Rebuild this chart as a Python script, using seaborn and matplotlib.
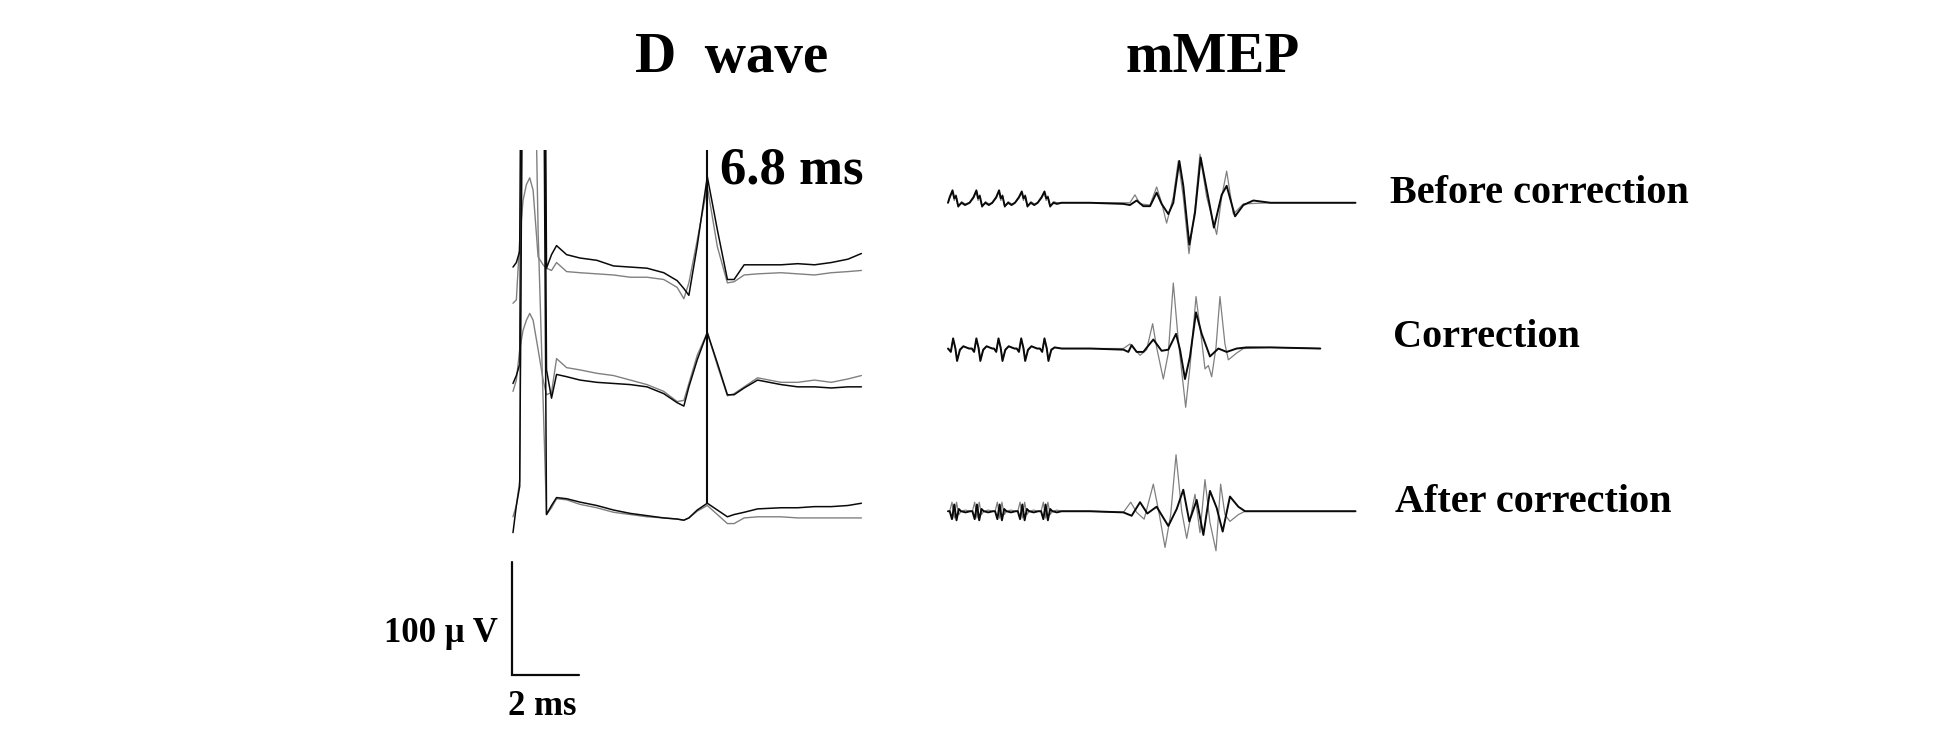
import numpy as np
import matplotlib
matplotlib.use("Agg")
import matplotlib.pyplot as plt
import seaborn as sns

# ---------------- D wave (time in ms, amplitude in uV) ----------------
dwave_t = [1.0, 1.1, 1.2, 1.3, 1.4, 1.5, 1.6, 1.75, 1.9,
           2.0, 2.15, 2.3, 2.6, 3.0, 3.5, 4.0, 4.5,
           5.0, 5.5, 5.9, 6.1, 6.25, 6.5, 6.8, 7.1,
           7.4, 7.6, 7.9, 8.3, 9.0, 9.5, 10.0, 10.5,
           11.0, 11.4]

# stimulus artifact runs off the top of the window (500 = off scale)
before_black = [1, 5, 15, 500, 500, 500, 500, 500, 500,
                0, 12, 20, 12, 9, 7, 2, 1,
                0, -4, -11, -18, -24, 20, 81, 34,
                -10, -10, 3, 3, 3, 4, 3, 5,
                8, 13]
before_gray = [-31, -28, 25, 60, 74, 80, 69, 10, 3,
               0, -2, 5, -3, -4, -5, -6, -8,
               -8, -10, -17, -27, -13, 25, 72, 19,
               -13, -12, -6, -5, -4, -5, -6, -4,
               -3, -2]
corr_black = [3, 10, 20, 500, 500, 500, 500, 500, 500,
              15, -10, 11, 9, 6, 4, 3, 2,
              0, -6, -14, -17, 0, 24, 48, 21,
              -7, -7, -1, 6, 2, 0, 0, -1,
              0, 0]
corr_gray = [-4, 6, 33, 50, 59, 65, 59, 33, 6,
             -7, -5, 25, 17, 15, 12, 10, 6,
             2, -4, -13, -12, 3, 28, 48, 19,
             -8, -6, 0, 8, 4, 4, 6, 4,
             7, 10]
after_black = [-16, 8, 25, 500, 500, 500, 500, 500, 500,
               0, 8, 15, 14, 11, 8, 4, 1,
               -1, -3, -4, -5, -3, 4, 10, 4,
               -2, 0, 2, 5, 6, 6, 7, 7,
               8, 10]
after_gray = [-2, 8, 30, 500, 500, 500, 500, 250, 100,
              0, 6, 14, 13, 9, 6, 2, 0,
              -2, -3, -4, -5, -3, 3, 8, 0,
              -8, -8, -3, -2, -2, -3, -3, -3,
              -3, -3]

LATENCY_MS = 6.8
SCALE_MS = 2
SCALE_UV = 100

# ---------------- mMEP (time in ms, amplitude in uV) ----------------
pre_black_t = [0.0, 0.15, 0.4, 0.55, 0.7, 0.9, 1.2, 1.5,
               1.9, 2.25, 2.5, 2.65, 2.8, 3.0, 3.3, 3.6,
               3.9, 4.25, 4.5, 4.65, 4.8, 5.0, 5.3, 5.6,
               5.9, 6.25, 6.5, 6.65, 6.8, 7.0, 7.3, 7.6,
               7.9, 8.25, 8.5, 8.65, 8.8, 9.0, 9.3, 9.6, 10.0,
               12.5, 15.45, 16.03, 16.62, 17.21, 17.8, 18.38, 18.82,
               19.41, 19.85, 20.38, 20.73, 21.26, 21.76, 22.26, 22.79,
               23.43, 24.11, 24.55, 25.29, 26.02, 26.9, 28.4, 35.9]
pre_black_v = [0, 5, 11, 4, 6, -3, 0, -2,
               0, 5, 11, 4, 6, -3, 0, -2,
               0, 5, 11, 4, 6, -3, 0, -2,
               0, 5, 10, 4, 6, -3, 0, -2,
               0, 5, 10, 4, 5, -3, 0, -1, 0,
               0, -1, -2, 2, -3, -3, 9, -1,
               -10, 0, 37, 15, -37, -9, 40, 12,
               -22, 7, 15, -12, -2, 2, 0, 0]
pre_gray_t = [0.0, 0.15, 0.4, 0.55, 0.7, 0.9, 1.2, 1.5,
              1.9, 2.25, 2.5, 2.65, 2.8, 3.0, 3.3, 3.6,
              3.9, 4.25, 4.5, 4.65, 4.8, 5.0, 5.3, 5.6,
              5.9, 6.25, 6.5, 6.65, 6.8, 7.0, 7.3, 7.6,
              7.9, 8.25, 8.5, 8.65, 8.8, 9.0, 9.3, 9.6, 10.0,
              12.5, 15.45, 16.03, 16.47, 16.92, 17.8, 18.38, 18.82,
              19.26, 19.85, 20.29, 20.73, 21.23, 21.76, 22.2, 22.79,
              23.67, 24.11, 24.55, 25.14, 26.02, 28.4, 35.9]
pre_gray_v = [0, 4, 10, 2, 7, -4, 1, -1,
              0, 4, 10, 2, 7, -4, 1, -1,
              0, 4, 10, 2, 7, -4, 1, -1,
              0, 4, 9, 2, 7, -4, 1, -1,
              0, 4, 9, 2, 6, -4, 1, 0, 0,
              0, 0, 0, 7, -1, -2, 14, 0,
              -18, 5, 37, 5, -45, -5, 43, 5,
              -28, 5, 28, -10, -1, 0, 0]

mid_t = [0.0, 0.25, 0.45, 0.65, 0.8, 1.05, 1.35, 1.85,
         2.1, 2.3, 2.5, 2.7, 2.85, 3.1, 3.4, 3.9,
         4.05, 4.25, 4.45, 4.65, 4.8, 5.05, 5.35, 5.85,
         6.05, 6.25, 6.45, 6.65, 6.8, 7.05, 7.35, 7.85,
         8.1, 8.3, 8.5, 8.7, 8.85, 9.1, 9.4, 10.0]
mid_black_pulses = [0, -3, 9, 0, -11, -1, 2, 0,
                    0, -3, 9, 0, -11, -1, 2, 0,
                    0, -3, 9, 0, -11, -1, 2, 0,
                    0, -3, 9, 0, -11, -1, 2, 0,
                    0, -3, 9, 0, -11, -1, 1, 0]
mid_gray_pulses = [0, -2, 8, 1, -10, -2, 2, 0,
                   0, -2, 8, 1, -10, -2, 2, 0,
                   0, -2, 8, 1, -10, -2, 2, 0,
                   0, -2, 8, 1, -10, -2, 2, 0,
                   0, -2, 8, 1, -10, -2, 1, 0]
mid_black_mep_t = [12.5, 15.45, 15.89, 16.18, 16.62, 17.21, 18.09, 18.82,
                   19.41, 20.09, 20.44, 20.88, 21.32, 21.85, 22.35, 23.08,
                   23.82, 24.55, 25.43, 26.31, 28.4, 32.8]
mid_black_mep_v = [0, -1, -3, 3, -3, -3, 8, -2,
                   -1, 13, -1, -27, -7, 32, 13, -7,
                   0, -3, 0, 1, 1, 0]
mid_gray_mep_t = [12.5, 15.45, 16.03, 16.92, 17.5, 18.03, 18.38, 18.97,
                  19.41, 19.85, 20.29, 20.94, 21.32, 21.85, 22.35, 22.64,
                  22.94, 23.23, 23.61, 23.96, 24.4, 24.7, 25.43, 26.02,
                  28.4, 32.8]
mid_gray_mep_v = [0, 0, 4, -6, -1, 22, 1, -27,
                  -4, 58, 7, -52, -16, 46, 7, -18,
                  -15, -25, 1, 46, 4, -10, -4, 0,
                  1, 0]

post_t = [0.0,
          0.15, 0.35, 0.55, 0.75, 0.95, 1.15, 1.55, 1.95,
          2.15, 2.35, 2.55, 2.75, 2.95, 3.15, 3.55, 3.95,
          4.15, 4.35, 4.55, 4.75, 4.95, 5.15, 5.55, 5.95,
          6.15, 6.35, 6.55, 6.75, 6.95, 7.15, 7.55, 7.95,
          8.2, 8.4, 8.6, 8.8, 9.0, 9.2, 9.6, 10.0]
post_gray_pulses = [0,
                    0, 8, -6, 8, -3, 0, 1, 0,
                    0, 8, -6, 8, -3, 0, 1, 0,
                    0, 8, -6, 8, -3, 0, 1, 0,
                    0, 8, -6, 8, -3, 0, 1, 0,
                    0, 8, -6, 8, -3, 0, 1, 0]
post_black_pulses = [0,
                     0, -7, 6, -8, 2, 0, -1, 0,
                     0, -7, 6, -8, 2, 0, -1, 0,
                     0, -7, 6, -8, 2, 0, -1, 0,
                     0, -7, 6, -8, 2, 0, -1, 0,
                     0, -7, 6, -8, 2, 0, -1, 0]
post_gray_mep_t = [12.5, 15.45, 16.1, 16.62, 17.28, 18.09, 18.62, 19.12,
                   19.62, 20.09, 20.59, 21.03, 21.47, 21.76, 22.2, 22.64,
                   23.08, 23.61, 24.02, 24.4, 24.84, 25.58, 26.17, 35.9]
post_gray_mep_v = [0, -1, 8, -1, -7, 24, -3, -32,
                   -3, 50, 0, -24, 0, 15, -19, 28,
                   -10, -35, 24, -3, -9, -3, 0, 0]
post_black_mep_t = [12.5, 15.45, 16.18, 16.92, 17.56, 18.38, 19.41, 20.15,
                    20.73, 21.26, 21.91, 22.5, 23.08, 23.67, 24.2, 24.84,
                    25.58, 26.17, 35.9]
post_black_mep_v = [0, -1, -4, 8, -2, 4, -13, 2,
                    19, -9, 10, -21, 18, 3, -18, 13,
                    4, 0, 0]

row_labels = ["Before correction", "Correction", "After correction"]

# ---------------- layout ----------------
W, H = 1954, 735
BLACK = "#0a0a0a"
GRAY = "#808080"


def fx(px):
    return px / W


def fy(py):
    return 1 - py / H


sns.set_style("white")
plt.rcParams["font.family"] = ["Liberation Serif", "DejaVu Serif"]
plt.rcParams["font.weight"] = "bold"
plt.rcParams["text.color"] = "black"

fig = plt.figure(figsize=(W / 100, H / 100), dpi=100)

# D wave panel
ax_d = fig.add_axes([fx(380), fy(735), fx(880) - fx(380), fy(150) - fy(735)])
d_offsets = [360, 255, 142]
d_pairs = [(before_black, before_gray), (corr_black, corr_gray), (after_black, after_gray)]
for off, (blk, gry) in zip(d_offsets, d_pairs):
    sns.lineplot(x=dwave_t, y=np.array(gry) + off, ax=ax_d, color=GRAY, lw=1.0,
                 estimator=None, sort=False, legend=False)
    sns.lineplot(x=dwave_t, y=np.array(blk) + off, ax=ax_d, color=BLACK, lw=1.1,
                 estimator=None, sort=False, legend=False)

ax_d.set_xlim(-2.97, 11.955)
ax_d.set_ylim(-53.1, 464.6)
ax_d.vlines(LATENCY_MS, d_offsets[2] + 10, 464.6, color=BLACK, lw=1.5)

# scale bar
sb_x0 = 0.97
ax_d.plot([sb_x0, sb_x0, sb_x0 + SCALE_MS], [SCALE_UV, 0, 0], color=BLACK, lw=1.6,
          solid_joinstyle="miter")
ax_d.axis("off")

# mMEP panel
ax_m = fig.add_axes([fx(930), fy(570), fx(1380) - fx(930), fy(130) - fy(570)])
m_offsets = [325, 196, 52]

sns.lineplot(x=pre_gray_t, y=np.array(pre_gray_v) + m_offsets[0], ax=ax_m, color=GRAY,
             lw=0.9, estimator=None, sort=False, legend=False)
sns.lineplot(x=pre_black_t, y=np.array(pre_black_v) + m_offsets[0], ax=ax_m, color=BLACK,
             lw=1.4, estimator=None, sort=False, legend=False)

sns.lineplot(x=mid_t + mid_gray_mep_t, y=np.array(mid_gray_pulses + mid_gray_mep_v) + m_offsets[1],
             ax=ax_m, color=GRAY, lw=0.9, estimator=None, sort=False, legend=False)
sns.lineplot(x=mid_t + mid_black_mep_t, y=np.array(mid_black_pulses + mid_black_mep_v) + m_offsets[1],
             ax=ax_m, color=BLACK, lw=1.4, estimator=None, sort=False, legend=False)

sns.lineplot(x=post_t + post_gray_mep_t, y=np.array(post_gray_pulses + post_gray_mep_v) + m_offsets[2],
             ax=ax_m, color=GRAY, lw=0.9, estimator=None, sort=False, legend=False)
sns.lineplot(x=post_t + post_black_mep_t, y=np.array(post_black_pulses + post_black_mep_v) + m_offsets[2],
             ax=ax_m, color=BLACK, lw=1.4, estimator=None, sort=False, legend=False)

ax_m.set_xlim(-1.586, 38.06)
ax_m.set_ylim(0, 389.4)
ax_m.axis("off")

# texts
fig.text(fx(635), fy(72), "D  wave", fontsize=41, fontweight="bold", va="baseline", ha="left",
         color="black")
fig.text(fx(1213), fy(72), "mMEP", fontsize=41, fontweight="bold", va="baseline", ha="center",
         color="black")
fig.text(fx(720), fy(183), "%.1f ms" % LATENCY_MS, fontsize=38, fontweight="bold",
         va="baseline", ha="left", color="black")
fig.text(fx(498), fy(642), "%d \u03bc V" % SCALE_UV, fontsize=25, fontweight="bold",
         va="baseline", ha="right", color="black")
fig.text(fx(508), fy(715), "%d ms" % SCALE_MS, fontsize=25, fontweight="bold",
         va="baseline", ha="left", color="black")
for lbl, (x, y) in zip(row_labels, [(1390, 203), (1393, 347), (1395, 512)]):
    fig.text(fx(x), fy(y), lbl, fontsize=29, fontweight="bold", va="baseline", ha="left",
             color="black")

fig.savefig("out.png", dpi=100, facecolor="white")
